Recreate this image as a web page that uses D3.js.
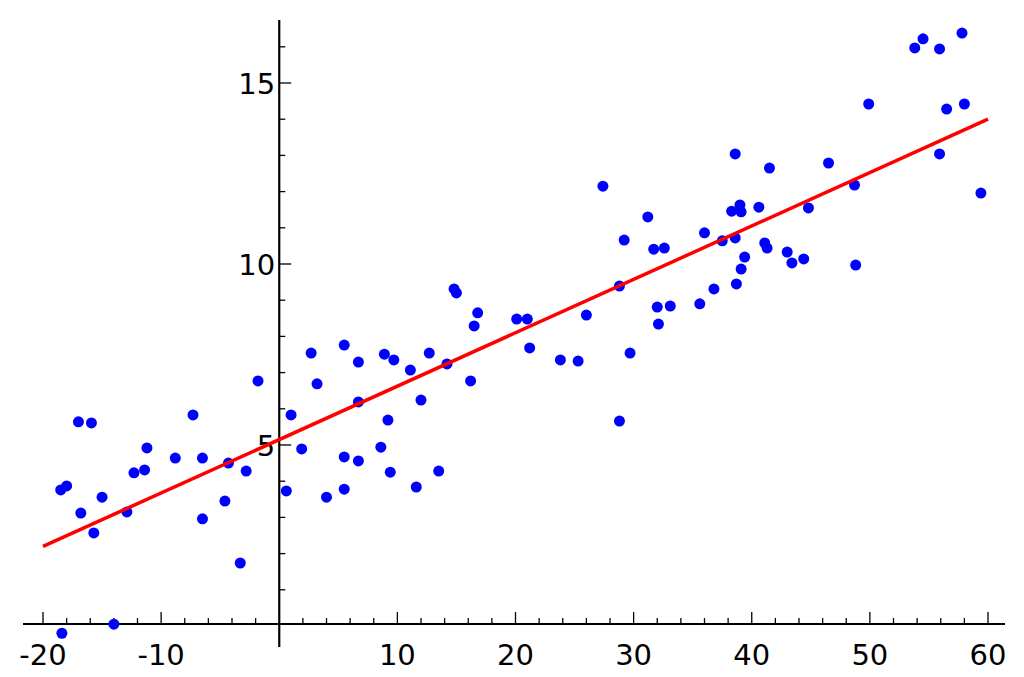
<!DOCTYPE html>
<html><head><meta charset="utf-8">
<script src="https://cdn.jsdelivr.net/npm/d3@7"></script>
<style>body{margin:0;background:#fff}</style></head>
<body><svg id="c" width="1024" height="677"></svg>
<script>
const xs=[-18.4,-18.5,-18.0,-17.0,-16.8,-15.9,-15.7,-15.0,-14.0,-12.9,-12.3,-11.4,-11.2,-8.8,-7.3,-6.5,-6.5,-4.6,-4.3,-3.3,-2.8,-1.8,0.6,1.0,1.9,2.7,3.2,4.0,5.5,5.5,5.5,6.7,6.7,6.7,8.6,8.9,9.2,9.4,9.7,11.1,11.6,12.0,12.7,13.5,14.2,14.8,15.0,16.2,16.5,16.8,20.1,21.0,21.2,23.8,25.3,26.0,27.4,28.8,28.8,29.2,29.7,31.2,31.7,32.0,32.1,32.6,33.1,35.6,36.0,36.8,37.5,38.3,38.6,38.6,38.7,39.0,39.1,39.1,39.4,40.6,41.1,41.3,41.5,43.0,43.4,44.4,44.8,46.5,48.7,48.8,49.9,53.8,54.5,55.9,55.9,56.5,57.8,58.0,59.4];
const ys=[-0.2,3.76,3.87,5.64,3.12,5.61,2.57,3.56,0.05,3.15,4.23,4.31,4.92,4.64,5.83,2.96,4.64,3.45,4.50,1.74,4.28,6.77,3.73,5.83,4.89,7.54,6.69,3.56,3.78,7.76,4.67,7.29,6.19,4.56,4.94,7.51,5.69,4.25,7.35,7.07,3.84,6.24,7.54,4.28,7.24,9.31,9.20,6.77,8.29,8.65,8.48,8.48,7.68,7.35,7.32,8.59,12.15,5.66,9.39,10.66,7.54,11.3,10.41,8.81,8.34,10.44,8.84,8.9,10.86,9.31,10.64,11.46,13.04,10.72,9.45,11.63,11.44,9.86,10.19,11.57,10.58,10.44,12.65,10.33,10.03,10.14,11.55,12.79,12.18,9.97,14.42,15.97,16.22,15.94,13.04,14.28,16.38,14.42,11.96];
const lineX=[-20,60], lineY=[2.2,14.0];
const xTicks=[-20,-10,10,20,30,40,50,60];
const yTicks=[5,10,15];
const svg=d3.select("#c");
const x=d3.scaleLinear().domain([-20,60]).range([43,988]);
const y=d3.scaleLinear().domain([5,15]).range([445,83]);
const F="DejaVu Sans";
const ax=y(0)-2;
svg.append("line").attr("x1",23).attr("x2",1005).attr("y1",ax).attr("y2",ax).attr("stroke","#000").attr("stroke-width",2.2);
svg.append("line").attr("x1",x(0)).attr("x2",x(0)).attr("y1",20).attr("y2",647).attr("stroke","#000").attr("stroke-width",2.2);
for(let v=-20;v<=60;v+=2){ if(v===0)continue; const maj=v%10===0;
 svg.append("line").attr("x1",x(v)).attr("x2",x(v)).attr("y1",ax).attr("y2",ax-(maj?12:6)).attr("stroke","#000").attr("stroke-width",1.3);}
for(let v=1;v<=16;v++){ const maj=v%5===0;
 svg.append("line").attr("x1",x(0)).attr("x2",x(0)+(maj?12:6)).attr("y1",y(v)).attr("y2",y(v)).attr("stroke","#000").attr("stroke-width",1.3);}
svg.selectAll(".xl").data(xTicks).enter().append("text").attr("x",d=>x(d)).attr("y",665).attr("text-anchor","middle").attr("font-family",F).attr("font-size",29).text(d=>d);
svg.selectAll(".yl").data(yTicks).enter().append("text").attr("x",x(0)-4).attr("y",d=>y(d)+11).attr("text-anchor","end").attr("font-family",F).attr("font-size",29).text(d=>d);
svg.selectAll("circle").data(xs.map((v,i)=>[v,ys[i]])).enter().append("circle").attr("cx",d=>x(d[0])).attr("cy",d=>y(d[1])).attr("r",5.5).attr("fill","#0000ff");
svg.append("line").attr("x1",x(lineX[0])).attr("y1",y(lineY[0])).attr("x2",x(lineX[1])).attr("y2",y(lineY[1])).attr("stroke","#ff0000").attr("stroke-width",3.5);
</script></body></html>
